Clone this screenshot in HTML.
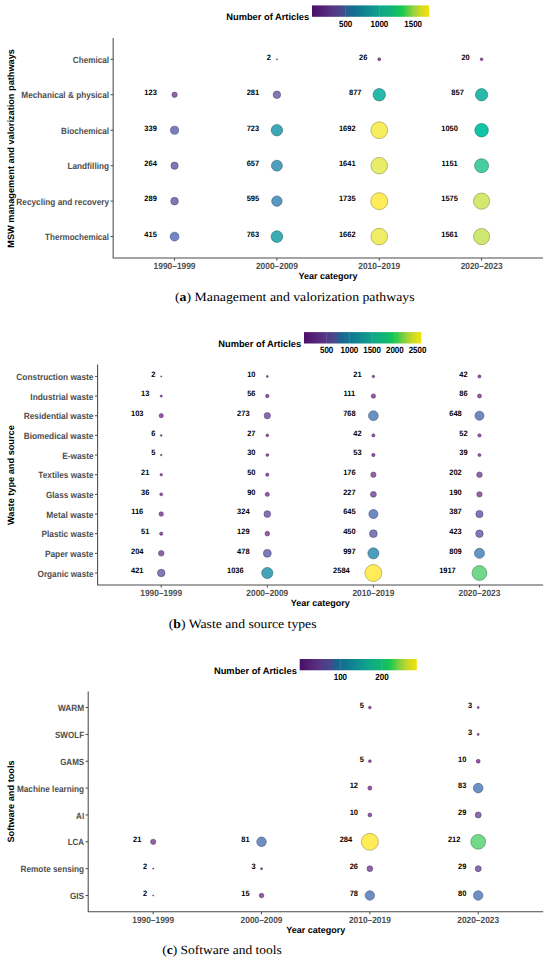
<!DOCTYPE html>
<html><head><meta charset="utf-8"><title>Bubble charts</title>
<style>html,body{margin:0;padding:0;background:#fff;width:550px;height:959px;overflow:hidden}svg{display:block}</style>
</head><body>
<svg width="550" height="959" viewBox="0 0 550 959" text-rendering="geometricPrecision" font-family='"Liberation Sans", sans-serif'><defs><linearGradient id="ga" x1="0" x2="1" y1="0" y2="0"><stop offset="0" stop-color="#4a0f6a"/><stop offset="0.15" stop-color="#58307f"/><stop offset="0.27" stop-color="#474b8f"/><stop offset="0.3" stop-color="#1f6090"/><stop offset="0.4" stop-color="#117890"/><stop offset="0.5" stop-color="#0f9090"/><stop offset="0.6" stop-color="#10a888"/><stop offset="0.7" stop-color="#10b870"/><stop offset="0.77" stop-color="#18c850"/><stop offset="0.85" stop-color="#80d040"/><stop offset="0.92" stop-color="#c8d828"/><stop offset="1" stop-color="#f2e208"/></linearGradient><linearGradient id="gb" x1="0" x2="1" y1="0" y2="0"><stop offset="0" stop-color="#4a0f6a"/><stop offset="0.15" stop-color="#58307f"/><stop offset="0.27" stop-color="#474b8f"/><stop offset="0.3" stop-color="#1f6090"/><stop offset="0.4" stop-color="#117890"/><stop offset="0.5" stop-color="#0f9090"/><stop offset="0.6" stop-color="#10a888"/><stop offset="0.7" stop-color="#10b870"/><stop offset="0.77" stop-color="#18c850"/><stop offset="0.85" stop-color="#80d040"/><stop offset="0.92" stop-color="#c8d828"/><stop offset="1" stop-color="#f2e208"/></linearGradient><linearGradient id="gc" x1="0" x2="1" y1="0" y2="0"><stop offset="0" stop-color="#4a0f6a"/><stop offset="0.15" stop-color="#58307f"/><stop offset="0.27" stop-color="#474b8f"/><stop offset="0.3" stop-color="#1f6090"/><stop offset="0.4" stop-color="#117890"/><stop offset="0.5" stop-color="#0f9090"/><stop offset="0.6" stop-color="#10a888"/><stop offset="0.7" stop-color="#10b870"/><stop offset="0.77" stop-color="#18c850"/><stop offset="0.85" stop-color="#80d040"/><stop offset="0.92" stop-color="#c8d828"/><stop offset="1" stop-color="#f2e208"/></linearGradient></defs><rect width="550" height="959" fill="#fff"/><text x="309.1" y="20.4" font-size="9.3" font-weight="bold" text-anchor="end" fill="#000">Number of Articles</text>
<rect x="312" y="5.4" width="117" height="11.4" fill="url(#ga)"/>
<line x1="345.62" x2="345.62" y1="5.4" y2="16.8" stroke="#fff" stroke-opacity="0.2" stroke-width="0.6"/>
<text transform="translate(345.62 26.7) scale(0.89 1)" font-size="9" font-weight="bold" text-anchor="middle" fill="#000">500</text>
<line x1="379.38" x2="379.38" y1="5.4" y2="16.8" stroke="#fff" stroke-opacity="0.2" stroke-width="0.6"/>
<text transform="translate(379.38 26.7) scale(0.89 1)" font-size="9" font-weight="bold" text-anchor="middle" fill="#000">1000</text>
<line x1="413.13" x2="413.13" y1="5.4" y2="16.8" stroke="#fff" stroke-opacity="0.2" stroke-width="0.6"/>
<text transform="translate(413.13 26.7) scale(0.89 1)" font-size="9" font-weight="bold" text-anchor="middle" fill="#000">1500</text>
<path d="M113.15 38V258H543" fill="none" stroke="#4a4a4a" stroke-width="1.05"/>
<line x1="110.55" x2="113.15" y1="59.28" y2="59.28" stroke="#4a4a4a" stroke-width="1"/>
<text transform="translate(109.05 62.88) scale(0.905 1)" font-size="9" font-weight="bold" text-anchor="end" fill="#4d4d4d">Chemical</text>
<line x1="110.55" x2="113.15" y1="94.75" y2="94.75" stroke="#4a4a4a" stroke-width="1"/>
<text transform="translate(109.05 98.35) scale(0.9134 1)" font-size="9" font-weight="bold" text-anchor="end" fill="#4d4d4d">Mechanical &amp; physical</text>
<line x1="110.55" x2="113.15" y1="130.22" y2="130.22" stroke="#4a4a4a" stroke-width="1"/>
<text transform="translate(109.05 133.82) scale(0.9041 1)" font-size="9" font-weight="bold" text-anchor="end" fill="#4d4d4d">Biochemical</text>
<line x1="110.55" x2="113.15" y1="165.68" y2="165.68" stroke="#4a4a4a" stroke-width="1"/>
<text transform="translate(109.05 169.28) scale(0.9153 1)" font-size="9" font-weight="bold" text-anchor="end" fill="#4d4d4d">Landfilling</text>
<line x1="110.55" x2="113.15" y1="201.15" y2="201.15" stroke="#4a4a4a" stroke-width="1"/>
<text transform="translate(109.05 204.75) scale(0.9171 1)" font-size="9" font-weight="bold" text-anchor="end" fill="#4d4d4d">Recycling and recovery</text>
<line x1="110.55" x2="113.15" y1="236.62" y2="236.62" stroke="#4a4a4a" stroke-width="1"/>
<text transform="translate(109.05 240.22) scale(0.8938 1)" font-size="9" font-weight="bold" text-anchor="end" fill="#4d4d4d">Thermochemical</text>
<line x1="174.56" x2="174.56" y1="258" y2="260.6" stroke="#4a4a4a" stroke-width="1"/>
<text transform="translate(174.56 268.9) scale(0.93 1)" font-size="9" font-weight="bold" text-anchor="middle" fill="#4d4d4d">1990–1999</text>
<line x1="276.9" x2="276.9" y1="258" y2="260.6" stroke="#4a4a4a" stroke-width="1"/>
<text transform="translate(276.9 268.9) scale(0.93 1)" font-size="9" font-weight="bold" text-anchor="middle" fill="#4d4d4d">2000–2009</text>
<line x1="379.25" x2="379.25" y1="258" y2="260.6" stroke="#4a4a4a" stroke-width="1"/>
<text transform="translate(379.25 268.9) scale(0.93 1)" font-size="9" font-weight="bold" text-anchor="middle" fill="#4d4d4d">2010–2019</text>
<line x1="481.59" x2="481.59" y1="258" y2="260.6" stroke="#4a4a4a" stroke-width="1"/>
<text transform="translate(481.59 268.9) scale(0.93 1)" font-size="9" font-weight="bold" text-anchor="middle" fill="#4d4d4d">2020–2023</text>
<text x="328.07" y="279.1" font-size="9" font-weight="bold" text-anchor="middle" fill="#000">Year category</text>
<text transform="translate(13.6 148.4) rotate(-90)" font-size="9.2" font-weight="bold" text-anchor="middle" fill="#000">MSW management and valorization pathways</text>
<circle cx="276.9" cy="59.28" r="0.55" fill="#944eaa" stroke="#5b3069" stroke-width="0.6"/>
<text transform="translate(268.9 59.58) scale(0.96 1)" font-size="7.8" font-weight="bold" text-anchor="middle" fill="#000">2</text>
<circle cx="379.25" cy="59.28" r="1.49" fill="#9550aa" stroke="#5c3169" stroke-width="0.6"/>
<text transform="translate(363.25 59.58) scale(0.96 1)" font-size="7.8" font-weight="bold" text-anchor="middle" fill="#000">26</text>
<circle cx="481.59" cy="59.28" r="1.36" fill="#954faa" stroke="#5c3069" stroke-width="0.6"/>
<text transform="translate(465.59 59.58) scale(0.96 1)" font-size="7.8" font-weight="bold" text-anchor="middle" fill="#000">20</text>
<circle cx="174.56" cy="94.75" r="2.65" fill="#9164a5" stroke="#593e66" stroke-width="0.6"/>
<text transform="translate(150.56 95.05) scale(0.96 1)" font-size="7.8" font-weight="bold" text-anchor="middle" fill="#000">123</text>
<circle cx="276.9" cy="94.75" r="3.74" fill="#8278b6" stroke="#504a70" stroke-width="0.6"/>
<text transform="translate(252.9 95.05) scale(0.96 1)" font-size="7.8" font-weight="bold" text-anchor="middle" fill="#000">281</text>
<circle cx="379.25" cy="94.75" r="6.2" fill="#27b9aa" stroke="#187269" stroke-width="0.6"/>
<text transform="translate(355.25 95.05) scale(0.96 1)" font-size="7.8" font-weight="bold" text-anchor="middle" fill="#000">877</text>
<circle cx="481.59" cy="94.75" r="6.13" fill="#2ab8ab" stroke="#1a726a" stroke-width="0.6"/>
<text transform="translate(457.59 95.05) scale(0.96 1)" font-size="7.8" font-weight="bold" text-anchor="middle" fill="#000">857</text>
<circle cx="174.56" cy="130.22" r="4.06" fill="#797dbd" stroke="#4b4d75" stroke-width="0.6"/>
<text transform="translate(150.56 130.52) scale(0.96 1)" font-size="7.8" font-weight="bold" text-anchor="middle" fill="#000">339</text>
<circle cx="276.9" cy="130.22" r="5.68" fill="#40a7b7" stroke="#276771" stroke-width="0.6"/>
<text transform="translate(252.9 130.52) scale(0.96 1)" font-size="7.8" font-weight="bold" text-anchor="middle" fill="#000">723</text>
<circle cx="379.25" cy="130.22" r="8.4" fill="#f7ee5f" stroke="#99933a" stroke-width="0.6"/>
<text transform="translate(347.25 130.52) scale(0.96 1)" font-size="7.8" font-weight="bold" text-anchor="middle" fill="#000">1692</text>
<circle cx="481.59" cy="130.22" r="6.73" fill="#12c4a5" stroke="#0b7966" stroke-width="0.6"/>
<text transform="translate(449.59 130.52) scale(0.96 1)" font-size="7.8" font-weight="bold" text-anchor="middle" fill="#000">1050</text>
<circle cx="174.56" cy="165.68" r="3.64" fill="#8376b6" stroke="#514970" stroke-width="0.6"/>
<text transform="translate(150.56 165.98) scale(0.96 1)" font-size="7.8" font-weight="bold" text-anchor="middle" fill="#000">264</text>
<circle cx="276.9" cy="165.68" r="5.44" fill="#4f9ebd" stroke="#306175" stroke-width="0.6"/>
<text transform="translate(252.9 165.98) scale(0.96 1)" font-size="7.8" font-weight="bold" text-anchor="middle" fill="#000">657</text>
<circle cx="379.25" cy="165.68" r="8.28" fill="#e8ec66" stroke="#8f923f" stroke-width="0.6"/>
<text transform="translate(347.25 165.98) scale(0.96 1)" font-size="7.8" font-weight="bold" text-anchor="middle" fill="#000">1641</text>
<circle cx="481.59" cy="165.68" r="7.02" fill="#48cd9f" stroke="#2c7f62" stroke-width="0.6"/>
<text transform="translate(449.59 165.98) scale(0.96 1)" font-size="7.8" font-weight="bold" text-anchor="middle" fill="#000">1151</text>
<circle cx="174.56" cy="201.15" r="3.79" fill="#8179b7" stroke="#4f4b71" stroke-width="0.6"/>
<text transform="translate(150.56 201.45) scale(0.96 1)" font-size="7.8" font-weight="bold" text-anchor="middle" fill="#000">289</text>
<circle cx="276.9" cy="201.15" r="5.2" fill="#5998c0" stroke="#375e77" stroke-width="0.6"/>
<text transform="translate(252.9 201.45) scale(0.96 1)" font-size="7.8" font-weight="bold" text-anchor="middle" fill="#000">595</text>
<circle cx="379.25" cy="201.15" r="8.5" fill="#ffec58" stroke="#9e9236" stroke-width="0.6"/>
<text transform="translate(347.25 201.45) scale(0.96 1)" font-size="7.8" font-weight="bold" text-anchor="middle" fill="#000">1735</text>
<circle cx="481.59" cy="201.15" r="8.12" fill="#d3e86e" stroke="#828f44" stroke-width="0.6"/>
<text transform="translate(449.59 201.45) scale(0.96 1)" font-size="7.8" font-weight="bold" text-anchor="middle" fill="#000">1575</text>
<circle cx="174.56" cy="236.62" r="4.43" fill="#7285c5" stroke="#46527a" stroke-width="0.6"/>
<text transform="translate(150.56 236.92) scale(0.96 1)" font-size="7.8" font-weight="bold" text-anchor="middle" fill="#000">415</text>
<circle cx="276.9" cy="236.62" r="5.82" fill="#39acb3" stroke="#236a6e" stroke-width="0.6"/>
<text transform="translate(252.9 236.92) scale(0.96 1)" font-size="7.8" font-weight="bold" text-anchor="middle" fill="#000">763</text>
<circle cx="379.25" cy="236.62" r="8.33" fill="#eeed63" stroke="#93923d" stroke-width="0.6"/>
<text transform="translate(347.25 236.92) scale(0.96 1)" font-size="7.8" font-weight="bold" text-anchor="middle" fill="#000">1662</text>
<circle cx="481.59" cy="236.62" r="8.09" fill="#cee770" stroke="#7f8f45" stroke-width="0.6"/>
<text transform="translate(449.59 236.92) scale(0.96 1)" font-size="7.8" font-weight="bold" text-anchor="middle" fill="#000">1561</text>
<text transform="translate(175 300.7) scale(1.094 1)" font-family='"Liberation Serif", serif' font-size="12.6" fill="#000">(<tspan font-weight="bold">a</tspan>) Management and valorization pathways</text>
<text x="301.1" y="347.1" font-size="9.3" font-weight="bold" text-anchor="end" fill="#000">Number of Articles</text>
<rect x="304" y="332.1" width="117.4" height="11.4" fill="url(#gb)"/>
<line x1="326.64" x2="326.64" y1="332.1" y2="343.5" stroke="#fff" stroke-opacity="0.2" stroke-width="0.6"/>
<text transform="translate(326.64 353.4) scale(0.89 1)" font-size="9" font-weight="bold" text-anchor="middle" fill="#000">500</text>
<line x1="349.38" x2="349.38" y1="332.1" y2="343.5" stroke="#fff" stroke-opacity="0.2" stroke-width="0.6"/>
<text transform="translate(349.38 353.4) scale(0.89 1)" font-size="9" font-weight="bold" text-anchor="middle" fill="#000">1000</text>
<line x1="372.11" x2="372.11" y1="332.1" y2="343.5" stroke="#fff" stroke-opacity="0.2" stroke-width="0.6"/>
<text transform="translate(372.11 353.4) scale(0.89 1)" font-size="9" font-weight="bold" text-anchor="middle" fill="#000">1500</text>
<line x1="394.85" x2="394.85" y1="332.1" y2="343.5" stroke="#fff" stroke-opacity="0.2" stroke-width="0.6"/>
<text transform="translate(394.85 353.4) scale(0.89 1)" font-size="9" font-weight="bold" text-anchor="middle" fill="#000">2000</text>
<line x1="417.58" x2="417.58" y1="332.1" y2="343.5" stroke="#fff" stroke-opacity="0.2" stroke-width="0.6"/>
<text transform="translate(417.58 353.4) scale(0.89 1)" font-size="9" font-weight="bold" text-anchor="middle" fill="#000">2500</text>
<path d="M97.6 364.6V585H543.1" fill="none" stroke="#4a4a4a" stroke-width="1.05"/>
<line x1="95" x2="97.6" y1="376.4" y2="376.4" stroke="#4a4a4a" stroke-width="1"/>
<text transform="translate(93.5 380) scale(0.9237 1)" font-size="9" font-weight="bold" text-anchor="end" fill="#4d4d4d">Construction waste</text>
<line x1="95" x2="97.6" y1="396.06" y2="396.06" stroke="#4a4a4a" stroke-width="1"/>
<text transform="translate(93.5 399.66) scale(0.9283 1)" font-size="9" font-weight="bold" text-anchor="end" fill="#4d4d4d">Industrial waste</text>
<line x1="95" x2="97.6" y1="415.72" y2="415.72" stroke="#4a4a4a" stroke-width="1"/>
<text transform="translate(93.5 419.32) scale(0.9246 1)" font-size="9" font-weight="bold" text-anchor="end" fill="#4d4d4d">Residential waste</text>
<line x1="95" x2="97.6" y1="435.38" y2="435.38" stroke="#4a4a4a" stroke-width="1"/>
<text transform="translate(93.5 438.98) scale(0.9246 1)" font-size="9" font-weight="bold" text-anchor="end" fill="#4d4d4d">Biomedical waste</text>
<line x1="95" x2="97.6" y1="455.04" y2="455.04" stroke="#4a4a4a" stroke-width="1"/>
<text transform="translate(93.5 458.64) scale(0.9181 1)" font-size="9" font-weight="bold" text-anchor="end" fill="#4d4d4d">E-waste</text>
<line x1="95" x2="97.6" y1="474.7" y2="474.7" stroke="#4a4a4a" stroke-width="1"/>
<text transform="translate(93.5 478.3) scale(0.9134 1)" font-size="9" font-weight="bold" text-anchor="end" fill="#4d4d4d">Textiles waste</text>
<line x1="95" x2="97.6" y1="494.36" y2="494.36" stroke="#4a4a4a" stroke-width="1"/>
<text transform="translate(93.5 497.96) scale(0.9153 1)" font-size="9" font-weight="bold" text-anchor="end" fill="#4d4d4d">Glass waste</text>
<line x1="95" x2="97.6" y1="514.02" y2="514.02" stroke="#4a4a4a" stroke-width="1"/>
<text transform="translate(93.5 517.62) scale(0.933 1)" font-size="9" font-weight="bold" text-anchor="end" fill="#4d4d4d">Metal waste</text>
<line x1="95" x2="97.6" y1="533.68" y2="533.68" stroke="#4a4a4a" stroke-width="1"/>
<text transform="translate(93.5 537.28) scale(0.919 1)" font-size="9" font-weight="bold" text-anchor="end" fill="#4d4d4d">Plastic waste</text>
<line x1="95" x2="97.6" y1="553.34" y2="553.34" stroke="#4a4a4a" stroke-width="1"/>
<text transform="translate(93.5 556.94) scale(0.9255 1)" font-size="9" font-weight="bold" text-anchor="end" fill="#4d4d4d">Paper waste</text>
<line x1="95" x2="97.6" y1="573" y2="573" stroke="#4a4a4a" stroke-width="1"/>
<text transform="translate(93.5 576.6) scale(0.9097 1)" font-size="9" font-weight="bold" text-anchor="end" fill="#4d4d4d">Organic waste</text>
<line x1="161.24" x2="161.24" y1="585" y2="587.6" stroke="#4a4a4a" stroke-width="1"/>
<text transform="translate(161.24 595.8) scale(0.93 1)" font-size="9" font-weight="bold" text-anchor="middle" fill="#4d4d4d">1990–1999</text>
<line x1="267.31" x2="267.31" y1="585" y2="587.6" stroke="#4a4a4a" stroke-width="1"/>
<text transform="translate(267.31 595.8) scale(0.93 1)" font-size="9" font-weight="bold" text-anchor="middle" fill="#4d4d4d">2000–2009</text>
<line x1="373.39" x2="373.39" y1="585" y2="587.6" stroke="#4a4a4a" stroke-width="1"/>
<text transform="translate(373.39 595.8) scale(0.93 1)" font-size="9" font-weight="bold" text-anchor="middle" fill="#4d4d4d">2010–2019</text>
<line x1="479.46" x2="479.46" y1="585" y2="587.6" stroke="#4a4a4a" stroke-width="1"/>
<text transform="translate(479.46 595.8) scale(0.93 1)" font-size="9" font-weight="bold" text-anchor="middle" fill="#4d4d4d">2020–2023</text>
<text x="320.35" y="606" font-size="9" font-weight="bold" text-anchor="middle" fill="#000">Year category</text>
<text transform="translate(13.6 475.1) rotate(-90)" font-size="9.2" font-weight="bold" text-anchor="middle" fill="#000">Waste type and source</text>
<circle cx="161.24" cy="376.4" r="0.55" fill="#944eaa" stroke="#5b3069" stroke-width="0.6"/>
<text transform="translate(153.24 376.7) scale(0.96 1)" font-size="7.8" font-weight="bold" text-anchor="middle" fill="#000">2</text>
<circle cx="267.31" cy="376.4" r="0.99" fill="#944eaa" stroke="#5b3069" stroke-width="0.6"/>
<text transform="translate(251.31 376.7) scale(0.96 1)" font-size="7.8" font-weight="bold" text-anchor="middle" fill="#000">10</text>
<circle cx="373.39" cy="376.4" r="1.23" fill="#944faa" stroke="#5b3069" stroke-width="0.6"/>
<text transform="translate(357.39 376.7) scale(0.96 1)" font-size="7.8" font-weight="bold" text-anchor="middle" fill="#000">21</text>
<circle cx="479.46" cy="376.4" r="1.54" fill="#9550aa" stroke="#5c3169" stroke-width="0.6"/>
<text transform="translate(463.46 376.7) scale(0.96 1)" font-size="7.8" font-weight="bold" text-anchor="middle" fill="#000">42</text>
<circle cx="161.24" cy="396.06" r="1.07" fill="#944faa" stroke="#5b3069" stroke-width="0.6"/>
<text transform="translate(145.24 396.36) scale(0.96 1)" font-size="7.8" font-weight="bold" text-anchor="middle" fill="#000">13</text>
<circle cx="267.31" cy="396.06" r="1.7" fill="#9551aa" stroke="#5c3269" stroke-width="0.6"/>
<text transform="translate(251.31 396.36) scale(0.96 1)" font-size="7.8" font-weight="bold" text-anchor="middle" fill="#000">56</text>
<circle cx="373.39" cy="396.06" r="2.18" fill="#9457a8" stroke="#5b3568" stroke-width="0.6"/>
<text transform="translate(349.39 396.36) scale(0.96 1)" font-size="7.8" font-weight="bold" text-anchor="middle" fill="#000">111</text>
<circle cx="479.46" cy="396.06" r="1.98" fill="#9653aa" stroke="#5d3369" stroke-width="0.6"/>
<text transform="translate(463.46 396.36) scale(0.96 1)" font-size="7.8" font-weight="bold" text-anchor="middle" fill="#000">86</text>
<circle cx="161.24" cy="415.72" r="2.12" fill="#9556a9" stroke="#5c3568" stroke-width="0.6"/>
<text transform="translate(137.24 416.02) scale(0.96 1)" font-size="7.8" font-weight="bold" text-anchor="middle" fill="#000">103</text>
<circle cx="267.31" cy="415.72" r="3.13" fill="#876cb4" stroke="#53426f" stroke-width="0.6"/>
<text transform="translate(243.31 416.02) scale(0.96 1)" font-size="7.8" font-weight="bold" text-anchor="middle" fill="#000">273</text>
<circle cx="373.39" cy="415.72" r="4.88" fill="#6993c4" stroke="#415b79" stroke-width="0.6"/>
<text transform="translate(349.39 416.02) scale(0.96 1)" font-size="7.8" font-weight="bold" text-anchor="middle" fill="#000">768</text>
<circle cx="479.46" cy="415.72" r="4.53" fill="#7188c5" stroke="#46547a" stroke-width="0.6"/>
<text transform="translate(455.46 416.02) scale(0.96 1)" font-size="7.8" font-weight="bold" text-anchor="middle" fill="#000">648</text>
<circle cx="161.24" cy="435.38" r="0.86" fill="#944eaa" stroke="#5b3069" stroke-width="0.6"/>
<text transform="translate(153.24 435.68) scale(0.96 1)" font-size="7.8" font-weight="bold" text-anchor="middle" fill="#000">6</text>
<circle cx="267.31" cy="435.38" r="1.33" fill="#954faa" stroke="#5c3069" stroke-width="0.6"/>
<text transform="translate(251.31 435.68) scale(0.96 1)" font-size="7.8" font-weight="bold" text-anchor="middle" fill="#000">27</text>
<circle cx="373.39" cy="435.38" r="1.54" fill="#9550aa" stroke="#5c3169" stroke-width="0.6"/>
<text transform="translate(357.39 435.68) scale(0.96 1)" font-size="7.8" font-weight="bold" text-anchor="middle" fill="#000">42</text>
<circle cx="479.46" cy="435.38" r="1.66" fill="#9551aa" stroke="#5c3269" stroke-width="0.6"/>
<text transform="translate(463.46 435.68) scale(0.96 1)" font-size="7.8" font-weight="bold" text-anchor="middle" fill="#000">52</text>
<circle cx="161.24" cy="455.04" r="0.82" fill="#944eaa" stroke="#5b3069" stroke-width="0.6"/>
<text transform="translate(153.24 455.34) scale(0.96 1)" font-size="7.8" font-weight="bold" text-anchor="middle" fill="#000">5</text>
<circle cx="267.31" cy="455.04" r="1.38" fill="#954faa" stroke="#5c3069" stroke-width="0.6"/>
<text transform="translate(251.31 455.34) scale(0.96 1)" font-size="7.8" font-weight="bold" text-anchor="middle" fill="#000">30</text>
<circle cx="373.39" cy="455.04" r="1.67" fill="#9551aa" stroke="#5c3269" stroke-width="0.6"/>
<text transform="translate(357.39 455.34) scale(0.96 1)" font-size="7.8" font-weight="bold" text-anchor="middle" fill="#000">53</text>
<circle cx="479.46" cy="455.04" r="1.5" fill="#9550aa" stroke="#5c3169" stroke-width="0.6"/>
<text transform="translate(463.46 455.34) scale(0.96 1)" font-size="7.8" font-weight="bold" text-anchor="middle" fill="#000">39</text>
<circle cx="161.24" cy="474.7" r="1.23" fill="#944faa" stroke="#5b3069" stroke-width="0.6"/>
<text transform="translate(145.24 475) scale(0.96 1)" font-size="7.8" font-weight="bold" text-anchor="middle" fill="#000">21</text>
<circle cx="267.31" cy="474.7" r="1.63" fill="#9550aa" stroke="#5c3169" stroke-width="0.6"/>
<text transform="translate(251.31 475) scale(0.96 1)" font-size="7.8" font-weight="bold" text-anchor="middle" fill="#000">50</text>
<circle cx="373.39" cy="474.7" r="2.61" fill="#9163a5" stroke="#593d66" stroke-width="0.6"/>
<text transform="translate(349.39 475) scale(0.96 1)" font-size="7.8" font-weight="bold" text-anchor="middle" fill="#000">176</text>
<circle cx="479.46" cy="474.7" r="2.76" fill="#8f66a8" stroke="#583f68" stroke-width="0.6"/>
<text transform="translate(455.46 475) scale(0.96 1)" font-size="7.8" font-weight="bold" text-anchor="middle" fill="#000">202</text>
<circle cx="161.24" cy="494.36" r="1.46" fill="#9550aa" stroke="#5c3169" stroke-width="0.6"/>
<text transform="translate(145.24 494.66) scale(0.96 1)" font-size="7.8" font-weight="bold" text-anchor="middle" fill="#000">36</text>
<circle cx="267.31" cy="494.36" r="2.02" fill="#9554a9" stroke="#5c3468" stroke-width="0.6"/>
<text transform="translate(251.31 494.66) scale(0.96 1)" font-size="7.8" font-weight="bold" text-anchor="middle" fill="#000">90</text>
<circle cx="373.39" cy="494.36" r="2.9" fill="#8c68ac" stroke="#56406a" stroke-width="0.6"/>
<text transform="translate(349.39 494.66) scale(0.96 1)" font-size="7.8" font-weight="bold" text-anchor="middle" fill="#000">227</text>
<circle cx="479.46" cy="494.36" r="2.7" fill="#9065a6" stroke="#593e66" stroke-width="0.6"/>
<text transform="translate(455.46 494.66) scale(0.96 1)" font-size="7.8" font-weight="bold" text-anchor="middle" fill="#000">190</text>
<circle cx="161.24" cy="514.02" r="2.22" fill="#9458a8" stroke="#5b3668" stroke-width="0.6"/>
<text transform="translate(137.24 514.32) scale(0.96 1)" font-size="7.8" font-weight="bold" text-anchor="middle" fill="#000">116</text>
<circle cx="267.31" cy="514.02" r="3.36" fill="#8570b5" stroke="#524570" stroke-width="0.6"/>
<text transform="translate(243.31 514.32) scale(0.96 1)" font-size="7.8" font-weight="bold" text-anchor="middle" fill="#000">324</text>
<circle cx="373.39" cy="514.02" r="4.52" fill="#7187c5" stroke="#46537a" stroke-width="0.6"/>
<text transform="translate(349.39 514.32) scale(0.96 1)" font-size="7.8" font-weight="bold" text-anchor="middle" fill="#000">645</text>
<circle cx="479.46" cy="514.02" r="3.62" fill="#8376b6" stroke="#514970" stroke-width="0.6"/>
<text transform="translate(455.46 514.32) scale(0.96 1)" font-size="7.8" font-weight="bold" text-anchor="middle" fill="#000">387</text>
<circle cx="161.24" cy="533.68" r="1.65" fill="#9551aa" stroke="#5c3269" stroke-width="0.6"/>
<text transform="translate(145.24 533.98) scale(0.96 1)" font-size="7.8" font-weight="bold" text-anchor="middle" fill="#000">51</text>
<circle cx="267.31" cy="533.68" r="2.31" fill="#945ba8" stroke="#5b3868" stroke-width="0.6"/>
<text transform="translate(243.31 533.98) scale(0.96 1)" font-size="7.8" font-weight="bold" text-anchor="middle" fill="#000">129</text>
<circle cx="373.39" cy="533.68" r="3.86" fill="#7f7ab9" stroke="#4e4b72" stroke-width="0.6"/>
<text transform="translate(349.39 533.98) scale(0.96 1)" font-size="7.8" font-weight="bold" text-anchor="middle" fill="#000">450</text>
<circle cx="479.46" cy="533.68" r="3.76" fill="#8178b7" stroke="#4f4a71" stroke-width="0.6"/>
<text transform="translate(455.46 533.98) scale(0.96 1)" font-size="7.8" font-weight="bold" text-anchor="middle" fill="#000">423</text>
<circle cx="161.24" cy="553.34" r="2.77" fill="#8f66a9" stroke="#583f68" stroke-width="0.6"/>
<text transform="translate(137.24 553.64) scale(0.96 1)" font-size="7.8" font-weight="bold" text-anchor="middle" fill="#000">204</text>
<circle cx="267.31" cy="553.34" r="3.96" fill="#7c7cbb" stroke="#4c4c73" stroke-width="0.6"/>
<text transform="translate(243.31 553.64) scale(0.96 1)" font-size="7.8" font-weight="bold" text-anchor="middle" fill="#000">478</text>
<circle cx="373.39" cy="553.34" r="5.49" fill="#4c9fbc" stroke="#2f6274" stroke-width="0.6"/>
<text transform="translate(349.39 553.64) scale(0.96 1)" font-size="7.8" font-weight="bold" text-anchor="middle" fill="#000">997</text>
<circle cx="479.46" cy="553.34" r="4.99" fill="#6396c4" stroke="#3d5d79" stroke-width="0.6"/>
<text transform="translate(455.46 553.64) scale(0.96 1)" font-size="7.8" font-weight="bold" text-anchor="middle" fill="#000">809</text>
<circle cx="161.24" cy="573" r="3.75" fill="#8178b6" stroke="#4f4a70" stroke-width="0.6"/>
<text transform="translate(137.24 573.3) scale(0.96 1)" font-size="7.8" font-weight="bold" text-anchor="middle" fill="#000">421</text>
<circle cx="267.31" cy="573" r="5.58" fill="#46a3ba" stroke="#2b6573" stroke-width="0.6"/>
<text transform="translate(235.31 573.3) scale(0.96 1)" font-size="7.8" font-weight="bold" text-anchor="middle" fill="#000">1036</text>
<circle cx="373.39" cy="573" r="8.5" fill="#ffec58" stroke="#9e9236" stroke-width="0.6"/>
<text transform="translate(341.39 573.3) scale(0.96 1)" font-size="7.8" font-weight="bold" text-anchor="middle" fill="#000">2584</text>
<circle cx="479.46" cy="573" r="7.4" fill="#71d98c" stroke="#468656" stroke-width="0.6"/>
<text transform="translate(447.46 573.3) scale(0.96 1)" font-size="7.8" font-weight="bold" text-anchor="middle" fill="#000">1917</text>
<text transform="translate(168.7 627.9) scale(1.088 1)" font-family='"Liberation Serif", serif' font-size="12.6" fill="#000">(<tspan font-weight="bold">b</tspan>) Waste and source types</text>
<text x="296.8" y="674" font-size="9.3" font-weight="bold" text-anchor="end" fill="#000">Number of Articles</text>
<rect x="299.7" y="659" width="117.1" height="11.3" fill="url(#gc)"/>
<line x1="340.39" x2="340.39" y1="659" y2="670.3" stroke="#fff" stroke-opacity="0.2" stroke-width="0.6"/>
<text transform="translate(340.39 680.2) scale(0.89 1)" font-size="9" font-weight="bold" text-anchor="middle" fill="#000">100</text>
<line x1="381.92" x2="381.92" y1="659" y2="670.3" stroke="#fff" stroke-opacity="0.2" stroke-width="0.6"/>
<text transform="translate(381.92 680.2) scale(0.89 1)" font-size="9" font-weight="bold" text-anchor="middle" fill="#000">200</text>
<path d="M88.2 691.4V911.7H543.2" fill="none" stroke="#4a4a4a" stroke-width="1.05"/>
<line x1="85.6" x2="88.2" y1="707.52" y2="707.52" stroke="#4a4a4a" stroke-width="1"/>
<text transform="translate(84.1 711.12) scale(0.919 1)" font-size="9" font-weight="bold" text-anchor="end" fill="#4d4d4d">WARM</text>
<line x1="85.6" x2="88.2" y1="734.38" y2="734.38" stroke="#4a4a4a" stroke-width="1"/>
<text transform="translate(84.1 737.98) scale(0.8957 1)" font-size="9" font-weight="bold" text-anchor="end" fill="#4d4d4d">SWOLF</text>
<line x1="85.6" x2="88.2" y1="761.24" y2="761.24" stroke="#4a4a4a" stroke-width="1"/>
<text transform="translate(84.1 764.84) scale(0.8863 1)" font-size="9" font-weight="bold" text-anchor="end" fill="#4d4d4d">GAMS</text>
<line x1="85.6" x2="88.2" y1="788.1" y2="788.1" stroke="#4a4a4a" stroke-width="1"/>
<text transform="translate(84.1 791.7) scale(0.9134 1)" font-size="9" font-weight="bold" text-anchor="end" fill="#4d4d4d">Machine learning</text>
<line x1="85.6" x2="88.2" y1="814.95" y2="814.95" stroke="#4a4a4a" stroke-width="1"/>
<text transform="translate(84.1 818.55) scale(0.8863 1)" font-size="9" font-weight="bold" text-anchor="end" fill="#4d4d4d">AI</text>
<line x1="85.6" x2="88.2" y1="841.81" y2="841.81" stroke="#4a4a4a" stroke-width="1"/>
<text transform="translate(84.1 845.41) scale(0.8863 1)" font-size="9" font-weight="bold" text-anchor="end" fill="#4d4d4d">LCA</text>
<line x1="85.6" x2="88.2" y1="868.67" y2="868.67" stroke="#4a4a4a" stroke-width="1"/>
<text transform="translate(84.1 872.27) scale(0.9143 1)" font-size="9" font-weight="bold" text-anchor="end" fill="#4d4d4d">Remote sensing</text>
<line x1="85.6" x2="88.2" y1="895.53" y2="895.53" stroke="#4a4a4a" stroke-width="1"/>
<text transform="translate(84.1 899.13) scale(0.9134 1)" font-size="9" font-weight="bold" text-anchor="end" fill="#4d4d4d">GIS</text>
<line x1="153.2" x2="153.2" y1="911.7" y2="914.3" stroke="#4a4a4a" stroke-width="1"/>
<text transform="translate(153.2 922.65) scale(0.93 1)" font-size="9" font-weight="bold" text-anchor="middle" fill="#4d4d4d">1990–1999</text>
<line x1="261.53" x2="261.53" y1="911.7" y2="914.3" stroke="#4a4a4a" stroke-width="1"/>
<text transform="translate(261.53 922.65) scale(0.93 1)" font-size="9" font-weight="bold" text-anchor="middle" fill="#4d4d4d">2000–2009</text>
<line x1="369.87" x2="369.87" y1="911.7" y2="914.3" stroke="#4a4a4a" stroke-width="1"/>
<text transform="translate(369.87 922.65) scale(0.93 1)" font-size="9" font-weight="bold" text-anchor="middle" fill="#4d4d4d">2010–2019</text>
<line x1="478.2" x2="478.2" y1="911.7" y2="914.3" stroke="#4a4a4a" stroke-width="1"/>
<text transform="translate(478.2 922.65) scale(0.93 1)" font-size="9" font-weight="bold" text-anchor="middle" fill="#4d4d4d">2020–2023</text>
<text x="315.7" y="932.85" font-size="9" font-weight="bold" text-anchor="middle" fill="#000">Year category</text>
<text transform="translate(13.6 801.5) rotate(-90)" font-size="9.2" font-weight="bold" text-anchor="middle" fill="#000">Software and tools</text>
<circle cx="369.87" cy="707.52" r="1.37" fill="#954faa" stroke="#5c3069" stroke-width="0.6"/>
<text transform="translate(361.87 707.82) scale(0.96 1)" font-size="7.8" font-weight="bold" text-anchor="middle" fill="#000">5</text>
<circle cx="478.2" cy="707.52" r="1.02" fill="#944eaa" stroke="#5b3069" stroke-width="0.6"/>
<text transform="translate(470.2 707.82) scale(0.96 1)" font-size="7.8" font-weight="bold" text-anchor="middle" fill="#000">3</text>
<circle cx="478.2" cy="734.38" r="1.02" fill="#944eaa" stroke="#5b3069" stroke-width="0.6"/>
<text transform="translate(470.2 734.68) scale(0.96 1)" font-size="7.8" font-weight="bold" text-anchor="middle" fill="#000">3</text>
<circle cx="369.87" cy="761.24" r="1.37" fill="#954faa" stroke="#5c3069" stroke-width="0.6"/>
<text transform="translate(361.87 761.54) scale(0.96 1)" font-size="7.8" font-weight="bold" text-anchor="middle" fill="#000">5</text>
<circle cx="478.2" cy="761.24" r="1.89" fill="#9652aa" stroke="#5d3269" stroke-width="0.6"/>
<text transform="translate(462.2 761.54) scale(0.96 1)" font-size="7.8" font-weight="bold" text-anchor="middle" fill="#000">10</text>
<circle cx="369.87" cy="788.1" r="2.05" fill="#9554a9" stroke="#5c3468" stroke-width="0.6"/>
<text transform="translate(353.87 788.4) scale(0.96 1)" font-size="7.8" font-weight="bold" text-anchor="middle" fill="#000">12</text>
<circle cx="478.2" cy="788.1" r="4.81" fill="#6c91c4" stroke="#425979" stroke-width="0.6"/>
<text transform="translate(462.2 788.4) scale(0.96 1)" font-size="7.8" font-weight="bold" text-anchor="middle" fill="#000">83</text>
<circle cx="369.87" cy="814.95" r="1.89" fill="#9652aa" stroke="#5d3269" stroke-width="0.6"/>
<text transform="translate(353.87 815.25) scale(0.96 1)" font-size="7.8" font-weight="bold" text-anchor="middle" fill="#000">10</text>
<circle cx="478.2" cy="814.95" r="3.01" fill="#8a6ab0" stroke="#55416d" stroke-width="0.6"/>
<text transform="translate(462.2 815.25) scale(0.96 1)" font-size="7.8" font-weight="bold" text-anchor="middle" fill="#000">29</text>
<circle cx="153.2" cy="841.81" r="2.61" fill="#9163a5" stroke="#593d66" stroke-width="0.6"/>
<text transform="translate(137.2 842.11) scale(0.96 1)" font-size="7.8" font-weight="bold" text-anchor="middle" fill="#000">21</text>
<circle cx="261.53" cy="841.81" r="4.76" fill="#6d8fc4" stroke="#435879" stroke-width="0.6"/>
<text transform="translate(245.53 842.11) scale(0.96 1)" font-size="7.8" font-weight="bold" text-anchor="middle" fill="#000">81</text>
<circle cx="369.87" cy="841.81" r="8.5" fill="#ffec58" stroke="#9e9236" stroke-width="0.6"/>
<text transform="translate(345.87 842.11) scale(0.96 1)" font-size="7.8" font-weight="bold" text-anchor="middle" fill="#000">284</text>
<circle cx="478.2" cy="841.81" r="7.41" fill="#73d98b" stroke="#478656" stroke-width="0.6"/>
<text transform="translate(454.2 842.11) scale(0.96 1)" font-size="7.8" font-weight="bold" text-anchor="middle" fill="#000">212</text>
<circle cx="153.2" cy="868.67" r="0.55" fill="#944eaa" stroke="#5b3069" stroke-width="0.6"/>
<text transform="translate(145.2 868.97) scale(0.96 1)" font-size="7.8" font-weight="bold" text-anchor="middle" fill="#000">2</text>
<circle cx="261.53" cy="868.67" r="1.02" fill="#944eaa" stroke="#5b3069" stroke-width="0.6"/>
<text transform="translate(253.53 868.97) scale(0.96 1)" font-size="7.8" font-weight="bold" text-anchor="middle" fill="#000">3</text>
<circle cx="369.87" cy="868.67" r="2.87" fill="#8d67ab" stroke="#573f6a" stroke-width="0.6"/>
<text transform="translate(353.87 868.97) scale(0.96 1)" font-size="7.8" font-weight="bold" text-anchor="middle" fill="#000">26</text>
<circle cx="478.2" cy="868.67" r="3.01" fill="#8a6ab0" stroke="#55416d" stroke-width="0.6"/>
<text transform="translate(462.2 868.97) scale(0.96 1)" font-size="7.8" font-weight="bold" text-anchor="middle" fill="#000">29</text>
<circle cx="153.2" cy="895.53" r="0.55" fill="#944eaa" stroke="#5b3069" stroke-width="0.6"/>
<text transform="translate(145.2 895.83) scale(0.96 1)" font-size="7.8" font-weight="bold" text-anchor="middle" fill="#000">2</text>
<circle cx="261.53" cy="895.53" r="2.26" fill="#9459a8" stroke="#5b3768" stroke-width="0.6"/>
<text transform="translate(245.53 895.83) scale(0.96 1)" font-size="7.8" font-weight="bold" text-anchor="middle" fill="#000">15</text>
<circle cx="369.87" cy="895.53" r="4.68" fill="#6e8dc4" stroke="#445779" stroke-width="0.6"/>
<text transform="translate(353.87 895.83) scale(0.96 1)" font-size="7.8" font-weight="bold" text-anchor="middle" fill="#000">78</text>
<circle cx="478.2" cy="895.53" r="4.73" fill="#6e8fc4" stroke="#445879" stroke-width="0.6"/>
<text transform="translate(462.2 895.83) scale(0.96 1)" font-size="7.8" font-weight="bold" text-anchor="middle" fill="#000">80</text>
<text transform="translate(162.2 954.4) scale(1.072 1)" font-family='"Liberation Serif", serif' font-size="12.6" fill="#000">(<tspan font-weight="bold">c</tspan>) Software and tools</text></svg>
</body></html>
